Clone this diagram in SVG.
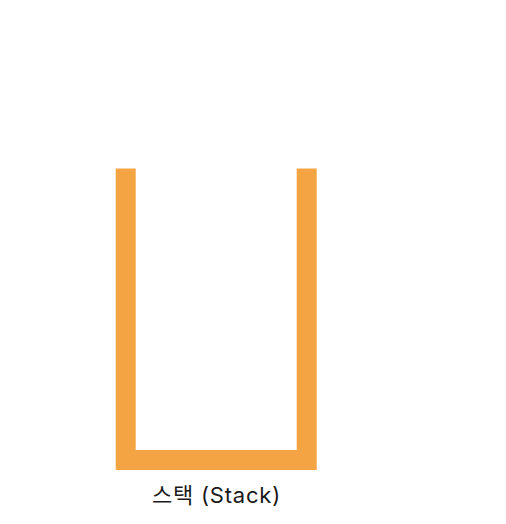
<svg xmlns="http://www.w3.org/2000/svg" width="506" height="524" viewBox="0 0 506 524">
<style>
.stack{fill:none;stroke:#F5A444;stroke-width:20;stroke-linejoin:miter;stroke-linecap:butt}
.lbl{font-family:"Inter","Noto Sans CJK KR",sans-serif;font-size:22px;letter-spacing:0.8px;fill:#1a1a1a;text-anchor:middle}
</style>
<rect width="506" height="524" fill="#ffffff"/>
<g id="stack">
<path class="stack" d="M125.7,168.5 V460 H306.7 V168.5"/>
<text class="lbl" x="216.5" y="503">스택 (Stack)</text>
</g>
</svg>
